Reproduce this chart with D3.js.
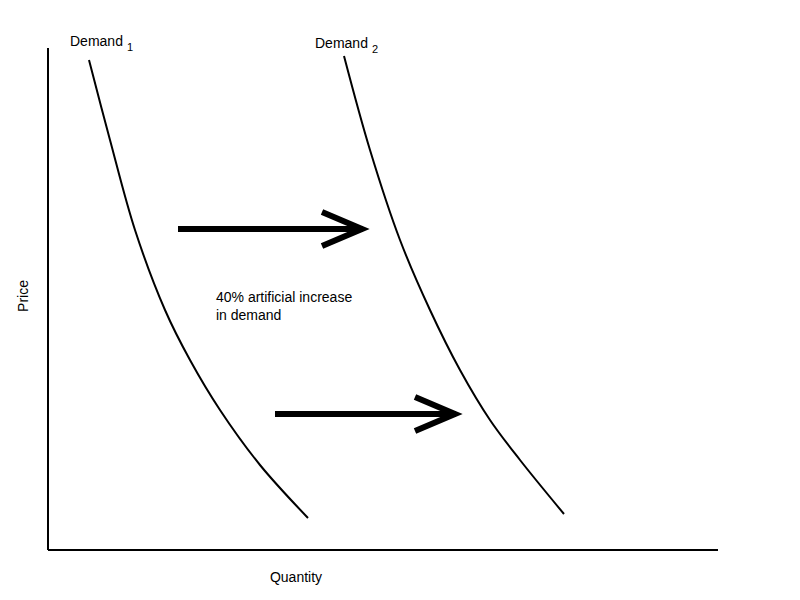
<!DOCTYPE html>
<html><head><meta charset="utf-8">
<script src="https://cdn.jsdelivr.net/npm/d3@7"></script>
<style>body{margin:0;background:#fff}text{font-family:"Liberation Sans",Arial,sans-serif;fill:#000}</style>
</head><body>
<script>
// quantity / price values in chart units
const demand1 = [[41,490],[62,410],[87,320],[117,240],[142,190],[172,140],[212,85],[260,32]];
const demand2 = [[296,494],[322,400],[352,310],[382,240],[412,180],[442,130],[472,90],[516,36]];
const shifts = [
	{ from: [130,321], to: [314,321] },
	{ from: [227,136], to: [407,136] }
];

const width = 800, height = 600;
const x = d3.scaleLinear().domain([0,670]).range([48,718]);
const y = d3.scaleLinear().domain([0,502]).range([550,48]);

const svg = d3.select('body').append('svg').attr('width', width).attr('height', height);

// axes
svg.append('line').attr('x1', x(0)).attr('y1', y(502)).attr('x2', x(0)).attr('y2', y(0))
	.attr('stroke', '#000').attr('stroke-width', 2);
svg.append('line').attr('x1', x(0)).attr('y1', y(0)).attr('x2', x(670)).attr('y2', y(0))
	.attr('stroke', '#000').attr('stroke-width', 2);

const line = d3.line().x(d => x(d[0])).y(d => y(d[1])).curve(d3.curveCatmullRom);
[demand1, demand2].forEach(d => {
	svg.append('path').attr('d', line(d)).attr('fill', 'none')
		.attr('stroke', '#000').attr('stroke-width', 2);
});

shifts.forEach(s => {
	const x1 = x(s.from[0]), x2 = x(s.to[0]), yy = y(s.from[1]);
	svg.append('line').attr('x1', x1).attr('y1', yy).attr('x2', x2 - 4).attr('y2', yy)
		.attr('stroke', '#000').attr('stroke-width', 6);
	svg.append('polyline')
		.attr('points', [[x2 - 40, yy - 17], [x2, yy], [x2 - 40, yy + 17]].join(' '))
		.attr('fill', 'none').attr('stroke', '#000').attr('stroke-width', 6);
});

function label(tx, ty, main, sub) {
	const t = svg.append('text').attr('x', tx).attr('y', ty).attr('font-size', 14).text(main);
	t.append('tspan').attr('font-size', 11).attr('dx', 4).attr('dy', 5).text(sub);
}
label(70, 46, 'Demand', '1');
label(315, 48, 'Demand', '2');

svg.append('text').attr('x', 216).attr('y', 302).attr('font-size', 14).text('40% artificial increase');
svg.append('text').attr('x', 216).attr('y', 320).attr('font-size', 14).text('in demand');

svg.append('text').attr('x', 296).attr('y', 582).attr('font-size', 14)
	.attr('text-anchor', 'middle').text('Quantity');
svg.append('text').attr('transform', 'translate(28,296) rotate(-90)').attr('font-size', 14)
	.attr('text-anchor', 'middle').text('Price');
</script>
</body></html>
